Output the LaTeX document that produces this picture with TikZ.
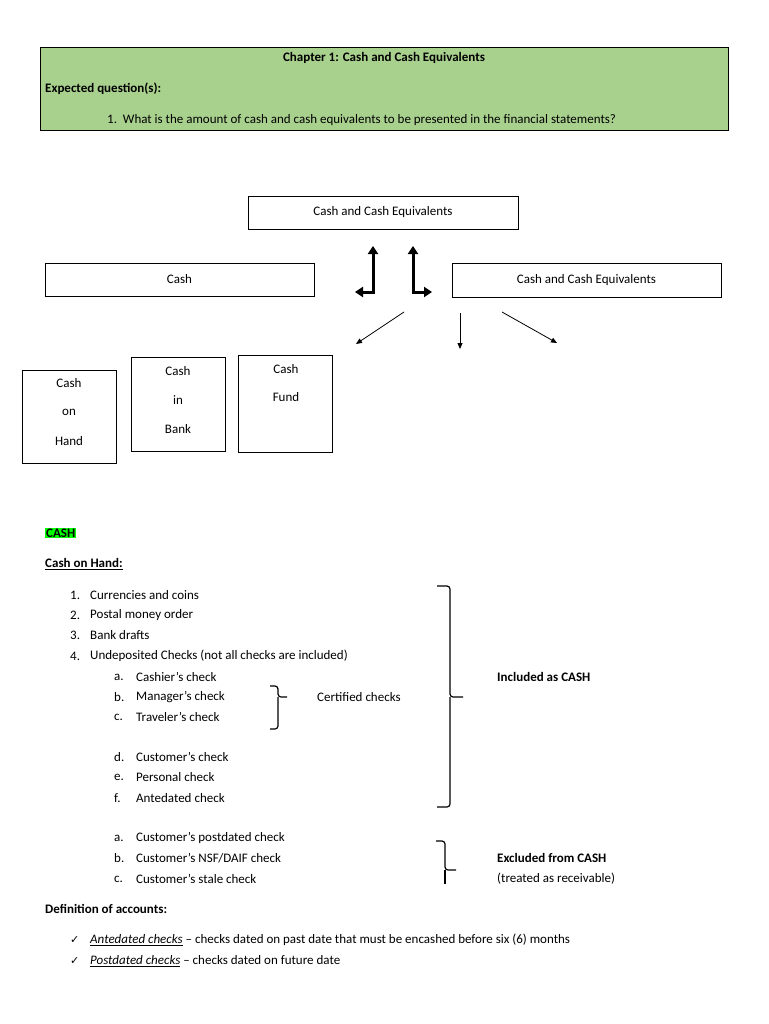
\documentclass[tikz,border=0pt]{standalone}
\usepackage{fontspec}
\setmainfont{Carlito}
\newfontfamily\dv{DejaVu Sans}
\usetikzlibrary{arrows.meta}
\begin{document}
\begin{tikzpicture}[x=1pt,y=-1pt,
  box/.style={draw,line width=0.8pt},
  txt/.style={anchor=west,inner sep=0pt,font=\fontsize{13}{15}\selectfont},
  ctxt/.style={inner sep=0pt,font=\fontsize{13}{15}\selectfont},
  arr/.style={-{Triangle[length=6pt,width=5pt]},line width=0.8pt},
  bent/.style={{Triangle[length=8pt,width=10pt]}-{Triangle[length=8pt,width=10pt]},line width=3pt},
  brace/.style={line width=1.2pt,rounded corners=3pt}]
\useasboundingbox (0,0) rectangle (768,1024);
\fill[white] (0,0) rectangle (768,1024);
% header
\node[box,fill={rgb,255:red,169;green,209;blue,142},minimum width=688pt,minimum height=83pt,anchor=north west] (hdr) at (40,47) {};
\node[ctxt,font=\fontsize{13}{15}\selectfont\bfseries] (t1) at (384,58) {Chapter 1: Cash and Cash Equivalents};
\node[txt,font=\fontsize{13}{15}\selectfont\bfseries] (t2) at (45,89) {Expected question(s):};
\node[txt] (t3) at (107,120) {1.\ \ What is the amount of cash and cash equivalents to be presented in the financial statements?};
% top boxes
\node[box,ctxt,minimum width=270pt,minimum height=33pt] (cce) at (383,212.5) {Cash and Cash Equivalents};
\node[box,ctxt,minimum width=269pt,minimum height=33pt] (cash) at (179.5,279.5) {Cash};
\node[box,ctxt,minimum width=269pt,minimum height=34pt] (cce2) at (586.5,280) {Cash and Cash Equivalents};
\draw[bent] (355,292) -- (373,292) -- (373,246);
\draw[bent] (432,292) -- (413,292) -- (413,246);
\coordinate (a1) at (404,312); \coordinate (a1e) at (356,344);
\coordinate (a2) at (460,313); \coordinate (a2e) at (460,349);
\coordinate (a3) at (502,312); \coordinate (a3e) at (557,343);
\draw[arr] (a1) -- (a1e); \draw[arr] (a2) -- (a2e); \draw[arr] (a3) -- (a3e);
% small boxes
\node[box,minimum width=94pt,minimum height=93pt,anchor=north west] (coh) at (22,370) {};
\node[ctxt] at (69,383) {Cash}; \node[ctxt] at (69,412) {on}; \node[ctxt] at (69,441) {Hand};
\node[box,minimum width=94pt,minimum height=94pt,anchor=north west] (cib) at (131,357) {};
\node[ctxt] at (178,371) {Cash}; \node[ctxt] at (178,400) {in}; \node[ctxt] at (178,429) {Bank};
\node[box,minimum width=94pt,minimum height=97pt,anchor=north west] (cf) at (238,355) {};
\node[ctxt] at (286,369) {Cash}; \node[ctxt] at (286,397) {Fund};
% CASH section
\node[txt,fill={rgb,255:red,0;green,255;blue,0},inner sep=1pt,font=\fontsize{13}{15}\selectfont\bfseries] (cashh) at (45,533) {CASH};
\node[txt,font=\fontsize{13}{15}\selectfont\bfseries] (coht) at (45,564) {\underline{Cash on Hand:}};
\foreach \n/\t/\y in {1/{Currencies and coins}/595,2/{Postal money order}/615,3/{Bank drafts}/635,4/{Undeposited Checks (not all checks are included)}/656}{
  \node[txt] at (70,\y) {\n.}; \node[txt] at (90,\y) {\t};}
\foreach \n/\t/\y in {a/{Cashier’s check}/677,b/{Manager’s check}/697,c/{Traveler’s check}/717,d/{Customer’s check}/757,e/{Personal check}/777,f/{Antedated check}/798,a/{Customer’s postdated check}/838,b/{Customer’s NSF\slash DAIF check}/858,c/{Customer’s stale check}/879}{
  \node[txt] at (114,\y) {\n.}; \node[txt] at (136,\y) {\t};}
\draw[brace] (270,686) -- (278,686) -- (278,697) -- (287,697);
\draw[brace] (278,697) -- (278,729) -- (270,729);
\draw[brace] (437,586) -- (450,586) -- (450,697) -- (463,697);
\draw[brace] (450,697) -- (450,807) -- (437,807);
\draw[brace] (436,841) -- (445,841) -- (445,870) -- (456,870);
\draw[brace] (445,870) -- (445,884);
\node[txt] (cert) at (317,697) {Certified checks};
\node[txt,font=\fontsize{13}{15}\selectfont\bfseries] (inc) at (497,677) {Included as CASH};
\node[txt,font=\fontsize{13}{15}\selectfont\bfseries] (exc) at (497,858) {Excluded from CASH};
\node[txt] (rec) at (497,879) {(treated as receivable)};
\node[txt,font=\fontsize{13}{15}\selectfont\bfseries] (def) at (45,909) {Definition of accounts:};
\node[txt,font=\dv\fontsize{11}{13}\selectfont] at (70,940) {✓};
\node[txt,font=\dv\fontsize{11}{13}\selectfont] at (70,961) {✓};
\node[txt] at (90,940) {\underline{\itshape Antedated checks} – checks dated on past date that must be encashed before six (6) months};
\node[txt] at (90,961) {\underline{\itshape Postdated checks} – checks dated on future date};
\end{tikzpicture}
\end{document}
